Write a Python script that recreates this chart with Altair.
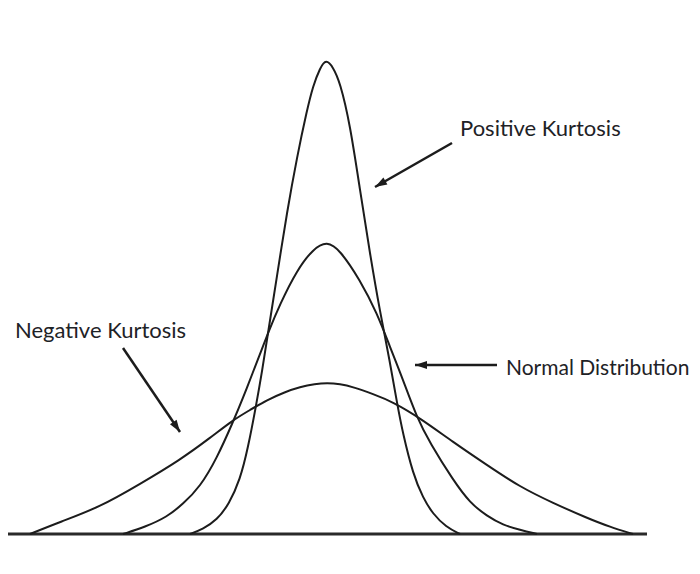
import altair as alt
import pandas as pd

# ---- curve readings (x = horizontal position, h = height above baseline) ----
peak_x = [190, 203, 217, 229, 240, 248, 256, 262, 268, 277, 287, 297, 307, 313, 320, 326,
          333, 340, 350, 360, 370, 380, 390, 397, 403, 413, 423, 433, 446, 460]
peak_h = [0, 5, 14, 30, 54, 86, 128, 162, 201, 258, 322, 377, 424, 448, 466, 475,
          467, 452, 410, 344, 280, 222, 172, 131, 100, 60, 36, 20, 7, 0]

norm_x = [123, 145, 167, 183, 200, 217, 233, 243, 253, 262, 268, 280, 297, 313, 327,
          340, 360, 377, 390, 402, 417, 430, 453, 470, 487, 503, 520, 537]
norm_h = [0, 7, 17, 30, 47, 76, 112, 136, 162, 185, 201, 230, 264, 285, 293,
          284, 254, 221, 187, 157, 116, 91, 54, 31, 18, 9, 4, 0]

wide_x = [30, 60, 100, 140, 180, 210, 233, 250, 267, 285, 300, 315, 327,
          340, 353, 373, 393, 420, 453, 487, 520, 553, 587, 610, 633]
wide_h = [0, 12, 27, 50, 74, 96, 114, 124, 134, 142, 147, 150, 151,
          150, 147, 140, 132, 116, 92, 69, 47, 31, 16, 7, 0]

base_x = [8, 647]
base_h = [0, 0]

# ---- annotations ----
labels = ["Positive Kurtosis", "Normal Distribution", "Negative Kurtosis"]
label_x = [460, 506, 15]
label_h = [398, 159, 196]
label_size = [22, 21, 22]

arrow_x1 = [452, 497, 123]
arrow_h1 = [391, 169, 186]
arrow_x2 = [375, 415, 180]
arrow_h2 = [347, 169, 102]
arrow_ang = [240, 270, 146]

curves = pd.concat([
    pd.DataFrame({"x": peak_x, "h": peak_h, "curve": "Positive"}),
    pd.DataFrame({"x": norm_x, "h": norm_h, "curve": "Normal"}),
    pd.DataFrame({"x": wide_x, "h": wide_h, "curve": "Negative"}),
], ignore_index=True)
base = pd.DataFrame({"x": base_x, "h": base_h})
text_df = pd.DataFrame({"label": labels, "x": label_x, "h": label_h, "fs": label_size})
arr_df = pd.DataFrame({"x1": arrow_x1, "h1": arrow_h1, "x2": arrow_x2,
                       "h2": arrow_h2, "ang": arrow_ang})

W, H = 684, 554
xs = alt.Scale(domain=[8, 8 + W], nice=False, zero=False)
ys = alt.Scale(domain=[534 - (8 + H), 526], nice=False, zero=False)

ink = "#1c1c1c"

curve_layer = alt.Chart(curves).mark_line(
    color=ink, strokeWidth=2, interpolate="basis"
).encode(
    x=alt.X("x:Q", scale=xs, axis=None),
    y=alt.Y("h:Q", scale=ys, axis=None),
    detail="curve:N",
)

base_layer = alt.Chart(base).mark_line(color="#2a2a2a", strokeWidth=3).encode(
    x=alt.X("x:Q", scale=xs, axis=None),
    y=alt.Y("h:Q", scale=ys, axis=None),
)

rule_layer = alt.Chart(arr_df).mark_rule(color=ink, strokeWidth=2.5).encode(
    x=alt.X("x1:Q", scale=xs, axis=None),
    y=alt.Y("h1:Q", scale=ys, axis=None),
    x2="x2:Q",
    y2="h2:Q",
)

head_layer = alt.Chart(arr_df).mark_point(
    shape="M0,0L-0.4,1.2L0.4,1.2Z", filled=True, color=ink, size=400, opacity=1
).encode(
    x=alt.X("x2:Q", scale=xs, axis=None),
    y=alt.Y("h2:Q", scale=ys, axis=None),
    angle=alt.Angle("ang:Q", scale=None),
)

text_layer = alt.Chart(text_df).mark_text(
    align="left", baseline="alphabetic",
    font="Lato, 'Open Sans', sans-serif",
    color="#1e2226",
).encode(
    x=alt.X("x:Q", scale=xs, axis=None),
    y=alt.Y("h:Q", scale=ys, axis=None),
    size=alt.Size("fs:Q", scale=None, legend=None),
    text="label:N",
)

chart = alt.layer(
    base_layer, curve_layer, rule_layer, head_layer, text_layer
).properties(
    width=W, height=H, padding=0, background="white",
    autosize=alt.AutoSizeParams(type="none"),
).configure_view(stroke=None)

chart.save("out.html", embed_options={"renderer": "svg", "actions": False})
